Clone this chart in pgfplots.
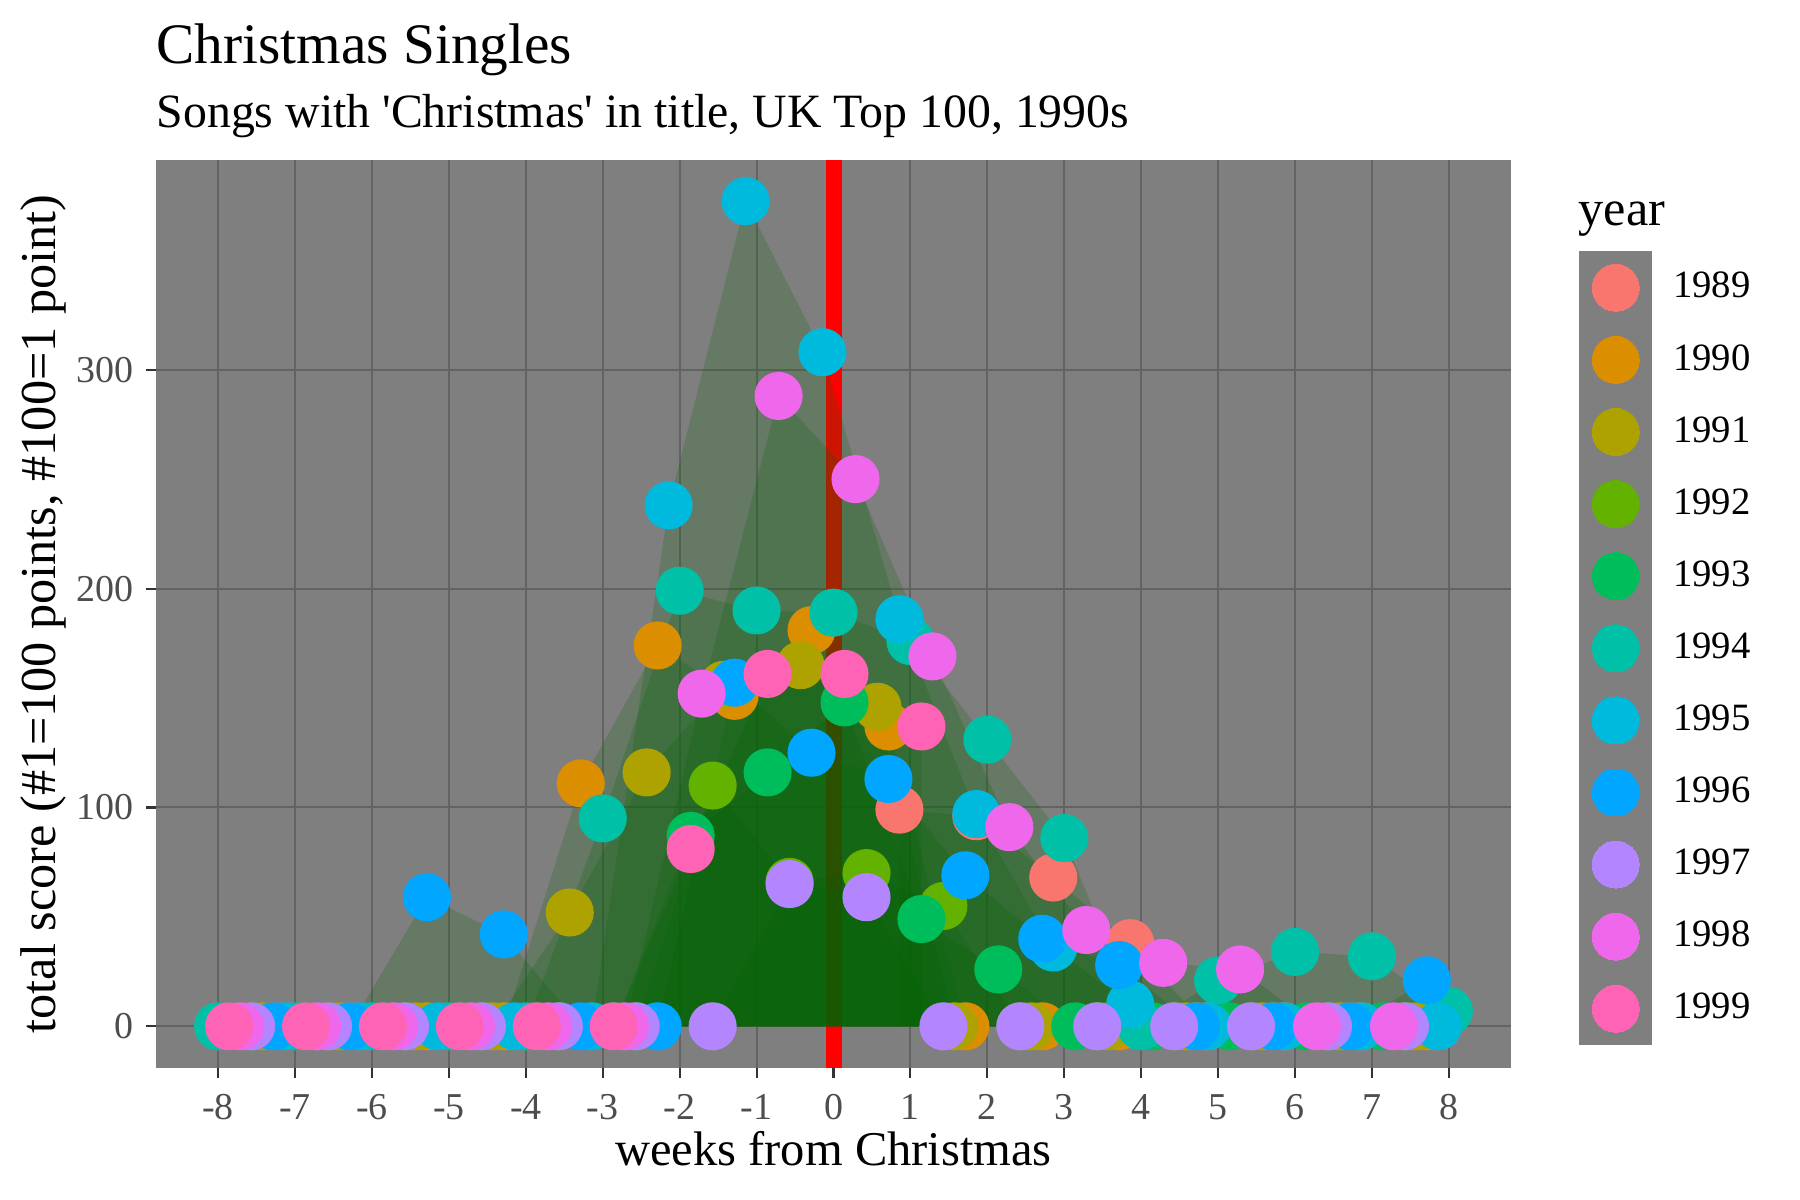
\documentclass[border=0pt]{standalone}
\usepackage{fontspec}
\setmainfont{Liberation Serif}
\usepackage{pgfplots}
\usepackage{pgfplotstable}
\pgfplotsset{compat=1.18}
\definecolor{c89}{HTML}{F8766D}
\definecolor{c90}{HTML}{DB8E00}
\definecolor{c91}{HTML}{AEA200}
\definecolor{c92}{HTML}{64B200}
\definecolor{c93}{HTML}{00BD5C}
\definecolor{c94}{HTML}{00C1A7}
\definecolor{c95}{HTML}{00BADE}
\definecolor{c96}{HTML}{00A6FF}
\definecolor{c97}{HTML}{B385FF}
\definecolor{c98}{HTML}{EF67EB}
\definecolor{c99}{HTML}{FF63B6}
\definecolor{panelgray}{HTML}{7F7F7F}
\definecolor{gridgray}{HTML}{636363}
\definecolor{tickgray}{HTML}{333333}
\definecolor{labgray}{HTML}{4D4D4D}
\definecolor{areagreen}{HTML}{006400}

\pgfplotstableread{
x y
0.857 99
1.857 96
2.857 68
3.857 38
4.857 0
5.857 0
6.857 0
7.857 0
}\yrA
\pgfplotstableread{
x y
-7.286 0
-6.286 0
-5.286 0
-4.286 0
-3.286 111
-2.286 174
-1.286 151
-0.286 181
0.714 137
1.714 0
2.714 0
3.714 0
4.714 0
5.714 0
6.714 0
7.714 0
}\yrB
\pgfplotstableread{
x y
-7.429 0
-6.429 0
-5.429 0
-4.429 0
-3.429 52
-2.429 116
-1.429 156
-0.429 165
0.571 146
1.571 0
2.571 0
3.571 0
4.571 0
5.571 0
6.571 0
7.571 0
}\yrC
\pgfplotstableread{
x y
-7.571 0
-6.571 0
-5.571 0
-4.571 0
-3.571 0
-2.571 0
-1.571 110
-0.571 66
0.429 70
1.429 55
2.429 0
3.429 0
4.429 0
5.429 0
6.429 0
7.429 0
}\yrD
\pgfplotstableread{
x y
-7.857 0
-6.857 0
-5.857 0
-4.857 0
-3.857 0
-2.857 0
-1.857 87
-0.857 116
0.143 148
1.143 49
2.143 26
3.143 0
4.143 0
5.143 0
6.143 0
7.143 0
}\yrE
\pgfplotstableread{
x y
-8 0
-7 0
-6 0
-5 0
-4 0
-3 95
-2 199
-1 190
0 189
1 176
2 131
3 86
4 0
5 21
6 34
7 32
8 7
}\yrF
\pgfplotstableread{
x y
-7.143 0
-6.143 0
-5.143 0
-4.143 0
-3.143 0
-2.143 238
-1.143 377
-0.143 308
0.857 186
1.857 97
2.857 36
3.857 10
4.857 0
5.857 0
6.857 0
7.857 0
}\yrG
\pgfplotstableread{
x y
-7.286 0
-6.286 0
-5.286 59
-4.286 42
-3.286 0
-2.286 0
-1.286 157
-0.286 125
0.714 113
1.714 69
2.714 40
3.714 28
4.714 0
5.714 0
6.714 0
7.714 21
}\yrH
\pgfplotstableread{
x y
-7.571 0
-6.571 0
-5.571 0
-4.571 0
-3.571 0
-2.571 0
-1.571 0
-0.571 65
0.429 59
1.429 0
2.429 0
3.429 0
4.429 0
5.429 0
6.429 0
7.429 0
}\yrI
\pgfplotstableread{
x y
-7.714 0
-6.714 0
-5.714 0
-4.714 0
-3.714 0
-2.714 0
-1.714 152
-0.714 288
0.286 250
1.286 169
2.286 91
3.286 44
4.286 29
5.286 26
6.286 0
7.286 0
}\yrJ
\pgfplotstableread{
x y
-7.857 0
-6.857 0
-5.857 0
-4.857 0
-3.857 0
-2.857 0
-1.857 81
-0.857 161
0.143 161
1.143 137
}\yrK

\begin{document}
\begin{tikzpicture}
\useasboundingbox (0,0) rectangle (18cm,-12cm);
\node[anchor=base west, inner sep=0pt, font=\fontsize{16.3pt}{19pt}\selectfont] at (1.56cm,-0.63cm) {Christmas Singles};
\node[anchor=base west, inner sep=0pt, font=\fontsize{13.6pt}{16pt}\selectfont] at (1.56cm,-1.27cm) {Songs with \textquotesingle Christmas\textquotesingle{} in title, UK Top 100, 1990s};
\node[anchor=base west, inner sep=0pt, font=\fontsize{14.3pt}{17pt}\selectfont] at (15.78cm,-2.25cm) {year};
\begin{axis}[
  at={(1.56cm,-1.60cm)}, anchor=north west,
  scale only axis, width=13.55cm, height=9.08cm,
  xmin=-8.808, xmax=8.808, ymin=-19.05, ymax=395.8,
  axis background/.style={fill=panelgray},
  axis line style={draw=none},
  grid=major,
  major grid style={draw=gridgray, line width=0.57pt},
  xtick={-8,-7,-6,-5,-4,-3,-2,-1,0,1,2,3,4,5,6,7,8},
  xticklabels={-8,-7,-6,-5,-4,-3,-2,-1,0,1,2,3,4,5,6,7,8},
  ytick={0,100,200,300},
  tick align=outside, tick pos=left,
  major tick length=0.1cm,
  tick style={draw=tickgray, line width=0.6pt},
  /pgf/number format/assume math mode=true,
  ticklabel style={font=\fontsize{10.8pt}{13pt}\selectfont, text=labgray},
  xticklabel style={anchor=north, inner sep=0pt, yshift=-0.16cm},
  yticklabel style={anchor=east, inner sep=0pt, xshift=-0.117cm},
  xlabel={weeks from Christmas},
  ylabel={total score (\#1=100 points, \#100=1 point)},
  every axis x label/.style={at={(axis description cs:0.5,-0.1079)}, anchor=base, font=\fontsize{13.8pt}{16pt}\selectfont},
  every axis y label/.style={at={(axis description cs:-0.08295,0.5)}, anchor=center, rotate=90, font=\fontsize{14.3pt}{17pt}\selectfont},
  legend style={at={(1.0502,0.8998)}, anchor=north west, draw=none, fill=none, inner sep=0pt, inner xsep=0pt, inner ysep=0pt, row sep=0pt, font=\fontsize{11pt}{13pt}\selectfont, /tikz/every odd column/.append style={column sep=0.145cm}},
  legend cell align=left,
  legend image code/.code={\fill[panelgray, line width=0pt] (-0.36cm,-0.3605cm) rectangle (0.36cm,0.3605cm); \fill[line width=0pt] (0,0) circle (0.235cm);},
]
\addplot[red, line width=0.16cm, forget plot] coordinates {(0,-19.05) (0,395.8)};
\pgfplotsset{areastyle/.style={draw=none, fill=areagreen, fill opacity=0.2, forget plot}}
\addplot[areastyle] table {\yrA} \closedcycle;
\addplot[areastyle] table {\yrB} \closedcycle;
\addplot[areastyle] table {\yrC} \closedcycle;
\addplot[areastyle] table {\yrD} \closedcycle;
\addplot[areastyle] table {\yrE} \closedcycle;
\addplot[areastyle] table {\yrF} \closedcycle;
\addplot[areastyle] table {\yrG} \closedcycle;
\addplot[areastyle] table {\yrH} \closedcycle;
\addplot[areastyle] table {\yrI} \closedcycle;
\addplot[areastyle] table {\yrJ} \closedcycle;
\addplot[areastyle] table {\yrK} \closedcycle;
\pgfplotsset{ptstyle/.style={only marks, mark=*, mark size=6.64pt, color=#1}}
\addplot[ptstyle=c89] table {\yrA}; \addlegendentry{1989}
\addplot[ptstyle=c90] table {\yrB}; \addlegendentry{1990}
\addplot[ptstyle=c91] table {\yrC}; \addlegendentry{1991}
\addplot[ptstyle=c92] table {\yrD}; \addlegendentry{1992}
\addplot[ptstyle=c93] table {\yrE}; \addlegendentry{1993}
\addplot[ptstyle=c94] table {\yrF}; \addlegendentry{1994}
\addplot[ptstyle=c95] table {\yrG}; \addlegendentry{1995}
\addplot[ptstyle=c96] table {\yrH}; \addlegendentry{1996}
\addplot[ptstyle=c97] table {\yrI}; \addlegendentry{1997}
\addplot[ptstyle=c98] table {\yrJ}; \addlegendentry{1998}
\addplot[ptstyle=c99] table {\yrK}; \addlegendentry{1999}
\end{axis}
\end{tikzpicture}
\end{document}
